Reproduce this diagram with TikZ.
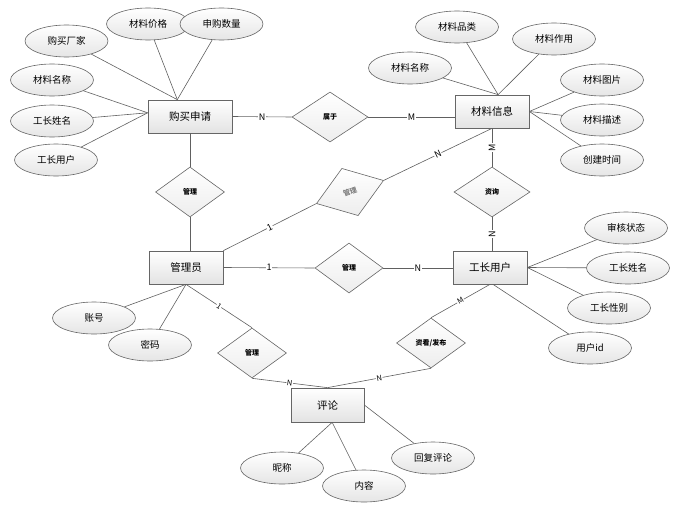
\documentclass[tikz,border=0pt]{standalone}
\usepackage{fontspec}
\setmainfont{Noto Sans CJK SC}
\usetikzlibrary{shapes.geometric}

\begin{document}
\begin{tikzpicture}[x=1pt, y=-1pt,
    every edge/.style={draw=gray!75!black, line width=0.6pt},
    entity/.style={draw=gray!80!black, line width=0.7pt, top color=white, bottom color=gray!22,
      minimum width=74pt, minimum height=33pt, inner sep=0pt, font=\fontsize{10.5}{12}\selectfont},
    attr/.style={ellipse, draw=gray!80!black, line width=0.6pt, top color=white, bottom color=gray!20,
      minimum width=83pt, minimum height=32pt, inner sep=0pt, font=\fontsize{9.5}{11}\selectfont},
    rel/.style={diamond, draw=gray!80!black, line width=0.6pt, top color=white, bottom color=gray!14,
      minimum width=69pt, minimum height=50pt, inner sep=0pt, font=\fontsize{7}{8}\selectfont\bfseries},
    card/.style={fill=white, inner sep=0.6pt, font=\fontsize{9}{10}\selectfont},
    smallcard/.style={card, font=\fontsize{7.5}{8}\selectfont}]
    \useasboundingbox (0,0) rectangle (687,506);

    % entities
    \node[entity, minimum width=84pt] (gm) at (190,116.5) {购买申请};
    \node[entity] (cl) at (492,111.5) {材料信息};
    \node[entity] (gly) at (186,267.5) {管理员};
    \node[entity] (gz) at (490,267.5) {工长用户};
    \node[entity, minimum width=73pt, minimum height=34pt] (pl) at (327.5,405) {评论};

    % relations
    \node[rel, minimum width=76pt] (sy) at (330,117) {属于};
    \node[rel] (glA) at (190,192) {管理};
    \node[rel, minimum width=71pt, rotate=19, text=gray] (glB) at (350,192) {管理};
    \node[rel, minimum width=76pt] (zx) at (492,192) {资询};
    \node[rel, minimum width=68pt] (glC) at (349,268) {管理};
    \node[rel] (glD) at (252,353) {管理};
    \node[rel] (fb) at (431,343) {资看/发布};

    % attributes
    \node[attr] (gmcj) at (66.5,41) {购买厂家};
    \node[attr] (gmjg) at (148,24) {材料价格};
    \node[attr] (gmsl) at (221.5,24) {申购数量};
    \node[attr] (gmmc) at (52,80) {材料名称};
    \node[attr] (gmxm) at (52,121) {工长姓名};
    \node[attr] (gmyh) at (56,160) {工长用户};
    \node[attr] (clmc) at (410,68) {材料名称};
    \node[attr] (clpl) at (457,27) {材料品类};
    \node[attr] (clzy) at (554,39) {材料作用};
    \node[attr] (cltp) at (602,80) {材料图片};
    \node[attr] (clms) at (602,120) {材料描述};
    \node[attr] (clsj) at (602,160) {创建时间};
    \node[attr] (gzzt) at (626,228) {审核状态};
    \node[attr] (gzxm) at (628,268) {工长姓名};
    \node[attr] (gzxb) at (609,308) {工长性别};
    \node[attr] (gzid) at (590,348) {用户id};
    \node[attr] (zh) at (94,318) {账号};
    \node[attr] (mm) at (150,345) {密码};
    \node[attr] (nc) at (282,468) {昵称};
    \node[attr] (nr) at (364,486) {内容};
    \node[attr] (hf) at (433,458) {回复评论};

    % attribute links
    \path (gm.127) edge (gmcj) edge (gmjg) edge (gmsl)
          (gm.175) edge (gmmc) edge (gmxm) edge (gmyh)
          (cl.70) edge (clmc) edge (clpl) edge (clzy)
          (cl.east) edge (cltp) edge (clms) edge (clsj)
          (gz.east) edge (gzzt) edge (gzxm) edge (gzxb)
          (gz.-80) edge (gzid)
          (gly.south) edge (zh) edge (mm)
          (pl.-75) edge (nc) edge (nr)
          (pl.east) edge (hf);

    % relation links
    \path (gm.east) edge node[card] {N} (sy.west)
          (sy.east) edge node[card] {M} (sy.east -| cl.west)
          (gm) edge (glA)
          (glA.south) edge (glA.south |- gly.north)
          (gly.north east) edge node[card, sloped] {1} (glB.west)
          (glB.east) edge node[card, sloped] {N} (cl.south)
          (cl.south) edge node[card, rotate=90] {M} (zx.north)
          (zx.south) edge node[card, rotate=90] {N} (zx.south |- gz.north)
          (gly.east) edge node[card] {1} (glC.west)
          (glC.east) edge node[card] {N} (glC.east -| gz.west)
          (gly.south) edge node[smallcard, sloped] {1} (glD.north)
          (glD.south) edge node[smallcard, sloped] {N} (pl.north)
          (gz.south) edge node[smallcard, sloped] {M} (fb.north)
          (fb.south) edge node[smallcard, sloped] {N} (pl.north);
\end{tikzpicture}
\end{document}
